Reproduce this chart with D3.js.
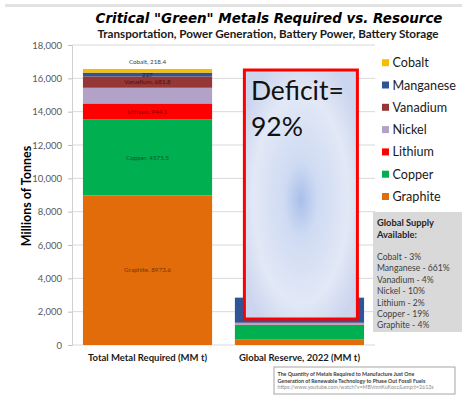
<!DOCTYPE html>
<html><head><meta charset="utf-8">
<script src="https://cdn.jsdelivr.net/npm/d3@7"></script>
<style>body{margin:0;background:#fff}svg{display:block}</style>
</head><body>
<script>
const metals = ["Graphite","Copper","Lithium","Nickel","Vanadium","Manganese","Cobalt"];
const required = [8973.6, 4575.5, 944.1, 940.6, 681.8, 227, 218.4];
const reserve = [320, 880, 22, 95, 24, 1500, 7.6];
const segLabels = ["Graphite, 8973.6","Copper, 4575.5","Lithium, 944.1","","Vanadium, 681.8","227",""];
const categories = ["Total Metal Required (MM t)","Global Reserve, 2022 (MM t)"];
const yTicks = [0,2000,4000,6000,8000,10000,12000,14000,16000,18000];
const supplyPct = ["3%","661%","4%","10%","2%","19%","4%"]; // legend order (Cobalt first)
const colors = {Graphite:"#e36c0a",Copper:"#00b050",Lithium:"#ff0000",Nickel:"#b3a2c7",Vanadium:"#953735",Manganese:"#2f5597",Cobalt:"#f7bd00"};
const labelColors = {Graphite:"#7a3405",Copper:"#05582a",Lithium:"#7a0000",Vanadium:"#4a1010",Manganese:"#1a1a3a"};
const sourceLines = ["The Quantity of Metals Required to Manufacture Just One","Generation of Renewable Technology to Phase Out Fossil Fuels","https://www.youtube.com/watch?v=MBVmnKuKocc&amp;t=2613s"];

const W=474,H=399;
const svg=d3.select("body").append("svg").attr("width",W).attr("height",H);
svg.append("rect").attr("width",W).attr("height",H).attr("fill","#fff");
svg.append("rect").attr("x",5).attr("y",4).attr("width",457).attr("height",3).attr("fill","#e2e2e2");

const F="Lato, 'Open Sans', sans-serif";
const y=d3.scaleLinear().domain([0,18000]).range([345,45]);
const x=d3.scaleBand().domain(categories).range([72,375]).paddingInner(0.15).paddingOuter(0.072);

// title
svg.append("text").attr("x",269).attr("y",22.5).attr("text-anchor","middle")
  .attr("font-family","'DejaVu Sans', Verdana, sans-serif").attr("font-weight","bold").attr("font-style","italic")
  .attr("font-size",14.5).attr("textLength",347).attr("lengthAdjust","spacingAndGlyphs")
  .text('Critical "Green" Metals Required vs. Resource');
svg.append("text").attr("x",268).attr("y",37.5).attr("text-anchor","middle")
  .attr("font-family",F).attr("font-weight","bold").attr("font-size",12).attr("fill","#1a1a1a")
  .attr("textLength",341).attr("lengthAdjust","spacingAndGlyphs")
  .text("Transportation, Power Generation, Battery Power, Battery Storage");

// gridlines
svg.append("g").selectAll("line").data(yTicks).join("line")
  .attr("x1",72).attr("x2",375).attr("y1",d=>y(d)).attr("y2",d=>y(d))
  .attr("stroke","#d9d9d9").attr("stroke-width",1);

// y axis
const ax=svg.append("g").attr("transform","translate(72,0)")
  .call(d3.axisLeft(y).tickValues(yTicks).tickSize(4).tickPadding(6).tickFormat(d3.format(",")));
ax.select(".domain").attr("stroke","#d0d0d0");
ax.selectAll(".tick line").attr("stroke","#bfbfbf");
ax.selectAll("text").attr("font-family",F).attr("font-size",9.5).attr("fill","#595959");

svg.append("text").attr("transform","translate(31,196) rotate(-90)").attr("text-anchor","middle")
  .attr("font-family",F).attr("font-weight","bold").attr("font-size",12.5).attr("fill","#000")
  .text("Millions of Tonnes");

// stacked bars
function stackOf(vals){let c=0;return vals.map((v,i)=>{const s={m:metals[i],y0:c,y1:c+v,v};c+=v;return s;});}
const stacks=[stackOf(required),stackOf(reserve)];
stacks.forEach((st,ci)=>{
  const g=svg.append("g");
  g.selectAll("rect").data(st).join("rect")
   .attr("x",x(categories[ci])).attr("width",x.bandwidth())
   .attr("y",d=>y(d.y1)).attr("height",d=>y(d.y0)-y(d.y1))
   .attr("fill",d=>colors[d.m]);
});
// segment labels on the first bar
const cx=x(categories[0])+x.bandwidth()/2;
svg.append("g").selectAll("text").data(stacks[0].filter((d,i)=>segLabels[i]!=="")).join("text")
  .attr("x",cx).attr("y",d=>(y(d.y0)+y(d.y1))/2+2.2).attr("text-anchor","middle")
  .attr("font-family",F).attr("font-size",6.3).attr("fill",d=>labelColors[d.m]||"#333")
  .text(d=>segLabels[metals.indexOf(d.m)]);
const topSeg=stacks[0][6];
svg.append("text").attr("x",cx).attr("y",y(topSeg.y1)-5).attr("text-anchor","middle")
  .attr("font-family",F).attr("font-size",6.3).attr("fill","#404040")
  .text("Cobalt, "+topSeg.v);

// category labels
svg.append("g").selectAll("text").data(categories).join("text")
  .attr("x",d=>x(d)+x.bandwidth()/2).attr("y",361).attr("text-anchor","middle")
  .attr("font-family",F).attr("font-weight","bold").attr("font-size",9.5).attr("fill","#1a1a1a")
  .text(d=>d);

// deficit box
const defs=svg.append("defs");
const rg=defs.append("radialGradient").attr("id","dg").attr("cx","50%").attr("cy","52%").attr("r","60%");
rg.append("stop").attr("offset","0%").attr("stop-color","#a9bfea");
rg.append("stop").attr("offset","25%").attr("stop-color","#cfdbf3");
rg.append("stop").attr("offset","70%").attr("stop-color","#e2e8f6");
rg.append("stop").attr("offset","100%").attr("stop-color","#cbd5ee");
const bx=x(categories[1]);
svg.append("rect").attr("x",bx+9.5).attr("y",y(16500)).attr("width",113).attr("height",y(1560)-y(16500))
  .attr("fill","url(#dg)").attr("stroke","#ff0000").attr("stroke-width",3);
svg.append("text").attr("x",bx+16).attr("y",100).attr("font-family",F).attr("font-size",26.5).attr("fill","#111")
  .text("Deficit=");
svg.append("text").attr("x",bx+16).attr("y",136).attr("font-family",F).attr("font-size",26.5).attr("fill","#111")
  .text("92%");

// legend
const legOrder=metals.slice().reverse();
const lg=svg.append("g").selectAll("g").data(legOrder).join("g")
  .attr("transform",(d,i)=>`translate(382,${62.7+i*22.3})`);
lg.append("rect").attr("x",0).attr("y",-3.5).attr("width",7).attr("height",7).attr("fill",d=>colors[d]);
lg.append("text").attr("x",10.5).attr("y",4.5).attr("font-family",F).attr("font-size",12.6).attr("fill","#1a1a1a").text(d=>d);

// global supply box
svg.append("rect").attr("x",373).attr("y",212).attr("width",89).attr("height",120).attr("fill","#d9d9d9");
svg.append("text").attr("x",377).attr("y",226).attr("font-family",F).attr("font-weight","bold").attr("font-size",9.3).attr("fill","#262626").text("Global Supply");
svg.append("text").attr("x",377).attr("y",238).attr("font-family",F).attr("font-weight","bold").attr("font-size",9.3).attr("fill","#262626").text("Available:");
svg.append("g").selectAll("text").data(legOrder).join("text")
  .attr("x",377).attr("y",(d,i)=>260+i*11.4).attr("font-family",F).attr("font-size",8.6).attr("fill","#404040")
  .text((d,i)=>d+" - "+supplyPct[i]);

// source box
svg.append("rect").attr("x",274).attr("y",367).attr("width",181).attr("height",27).attr("fill","#fff").attr("stroke","#a6a6a6").attr("stroke-width",1);
svg.append("g").selectAll("text").data(sourceLines).join("text")
  .attr("x",277.5).attr("y",(d,i)=>376+i*6.7).attr("font-family",F).attr("font-size",5.3)
  .attr("font-weight",(d,i)=>i<2?"bold":"normal").attr("fill",(d,i)=>i<2?"#404040":"#8c8c8c")
  .text(d=>d);
</script>
</body></html>
